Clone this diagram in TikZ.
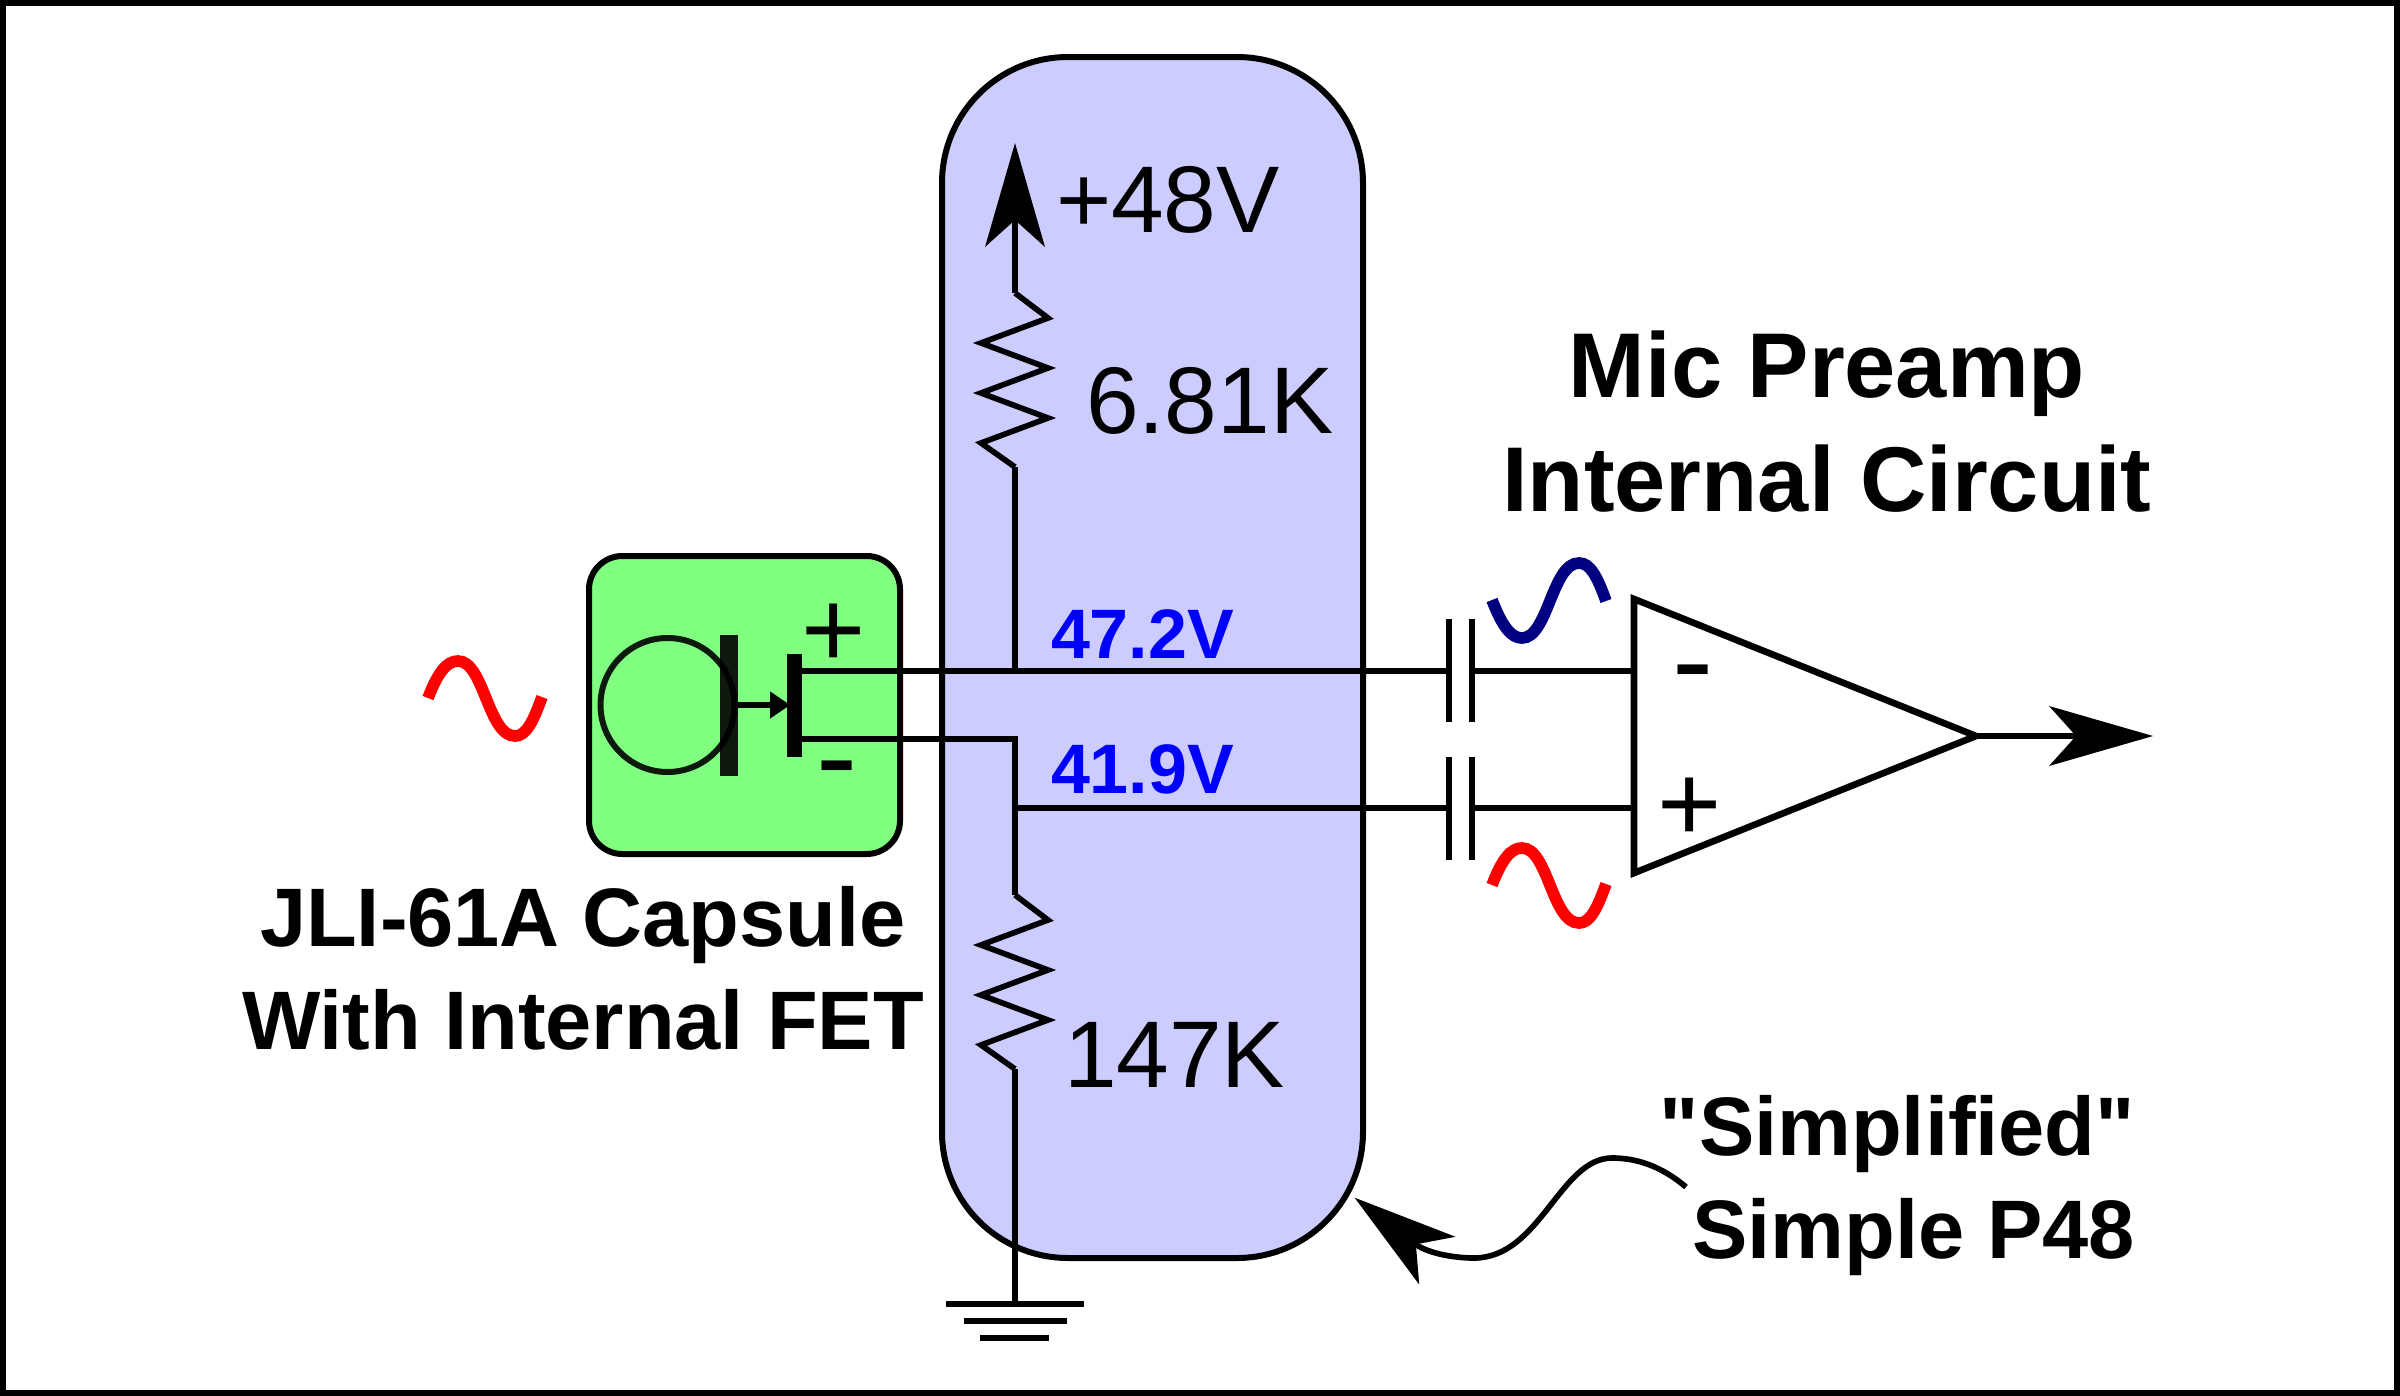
\documentclass[tikz,border=0pt]{standalone}
\usepackage{fontspec}
\setmainfont[Ligatures=TeXOff]{Liberation Sans}
\usetikzlibrary{arrows.meta}
\definecolor{pblue}{HTML}{CCCCFF}
\definecolor{cgreen}{HTML}{80FF80}
\definecolor{sigred}{HTML}{FF0000}
\definecolor{signavy}{HTML}{000080}
\definecolor{vblue}{HTML}{0000FF}
\tikzset{
  wire/.style={line width=1.7pt,line join=miter},
  bigtip/.style={-{Stealth[length=31.2pt,width=18pt,inset=8.1pt,line width=0pt]}},
  plate/.style={line width=1.7pt},
  gndbar/.style={line width=1.8pt},
  lab/.style={inner sep=0pt,outer sep=0pt,anchor=base},
  titlelg/.style={lab,font=\bfseries\fontsize{27.6pt}{30pt}\selectfont},
  titlesm/.style={lab,font=\bfseries\fontsize{24.9pt}{28pt}\selectfont},
  valtxt/.style={lab,font=\fontsize{28.4pt}{32pt}\selectfont},
  volttxt/.style={lab,text=vblue,font=\bfseries\fontsize{21pt}{24pt}\selectfont},
  plustxt/.style={lab,font=\fontsize{33pt}{36pt}\selectfont},
  minustxt/.style={lab,font=\fontsize{37pt}{40pt}\selectfont},
  bigbox/.style={draw=black,line width=1.8pt,inner sep=0pt,rounded corners=37.8pt},
  capbox/.style={draw=black,line width=1.8pt,fill=cgreen,inner sep=0pt,rounded corners=10pt},
  sinewave/.pic={\draw[line width=3.5pt,pic actions]
     (0,0) .. controls (10,-26) and (19,-37) .. (30,-37)
           .. controls (56,-37) and (60,38) .. (87,38)
           .. controls (98,38) and (105,24) .. (114,-1);},
  sinewaveinv/.pic={\draw[line width=3.5pt,pic actions]
     (0,0) .. controls (10,26) and (19,38) .. (30,38)
           .. controls (56,38) and (60,-37) .. (87,-37)
           .. controls (98,-37) and (105,-24) .. (114,1);},
  zigzag/.pic={\draw[wire] (0,0) -- (33,25) -- (-34,50) -- (33,75) -- (-34,100) -- (33,125) -- (-34,150) -- (0,174);}
}
\begin{document}
\begin{tikzpicture}[x=0.3pt,y=-0.3pt]
\useasboundingbox (0,0) rectangle (2400,1396);
\fill[white] (0,0) rectangle (2400,1396);
\draw[line width=1.8pt] (3,3) rectangle (2397,1393);

% boxes
\node[bigbox,fill=pblue,minimum width=126.3pt,minimum height=360.3pt] (p48) at (1152.5,657.5) {};
\node[capbox,minimum width=93.3pt,minimum height=89.4pt] (capsule) at (744.5,705) {};

% coordinates
\coordinate (fetD) at (802,671);
\coordinate (fetS) at (802,739);
\coordinate (jtop) at (1015,671);
\coordinate (jbot) at (1015,739);
\coordinate (jmid) at (1015,808);
\coordinate (vcc) at (1015,143);
\coordinate (r1a) at (1015,293);
\coordinate (r1b) at (1015,467);
\coordinate (r2a) at (1015,895);
\coordinate (r2b) at (1015,1069);
\coordinate (gnd) at (1015,1304);
\coordinate (c1l) at (1449,671);
\coordinate (c1r) at (1472,671);
\coordinate (c2l) at (1449,808);
\coordinate (c2r) at (1472,808);
\coordinate (ampTL) at (1634,599);
\coordinate (ampBL) at (1634,873);
\coordinate (ampT) at (1976,736);
\coordinate (ampIn) at (1634,671);
\coordinate (ampIp) at (1634,808);
\coordinate (out) at (2153,736);

% microphone
\fill[black,opacity=.9] (720,635) rectangle (738,776);
\draw[line width=1.8pt,black,opacity=.9] (667.5,705) circle[radius=67];
\coordinate (gateL) at (738,705);
\coordinate (gateR) at (790,705);
\draw[wire,-{Triangle[length=6pt,width=8.2pt,line width=0pt]}] (gateL) -- (gateR);
\fill (787,654) rectangle (802,757);

% wires
\draw[wire] (fetD) -- (c1l);
\draw[wire] (c1r) -- (ampIn);
\draw[wire] (fetS) -- (jbot) -- (r2a);
\draw[wire] (jmid) -- (c2l);
\draw[wire] (c2r) -- (ampIp);
\draw[wire] (jtop) -- (r1b);
\draw[wire,bigtip] (r1a) -- (vcc);
\draw[wire] (r2b) -- (gnd);
\pic at (r1a) {zigzag};
\pic at (r2a) {zigzag};

% capacitors
\draw[plate] (1449,619) -- (1449,722);
\draw[plate] (1472,619) -- (1472,722);
\draw[plate] (1449,757) -- (1449,860);
\draw[plate] (1472,757) -- (1472,860);

% ground
\draw[gndbar] (946,1304) -- (1084,1304);
\draw[gndbar] (963.5,1321) -- (1066.5,1321);
\draw[gndbar] (980,1338) -- (1049,1338);

% op amp
\draw[line width=2pt,line join=miter] (ampTL) -- (ampT) -- (ampBL) -- cycle;
\draw[wire,bigtip] (ampT) -- (out);

% signals
\pic[draw=sigred] at (428,698) {sinewave};
\pic[draw=sigred] at (1492,885) {sinewave};
\pic[draw=signavy] at (1492,600) {sinewaveinv};

% callout
\coordinate (calloutStart) at (1686,1187);
\coordinate (calloutTip) at (1354.6,1197.7);
\draw[wire,bigtip] (calloutStart) .. controls (1660,1165) and (1635,1158) .. (1612,1158)
  .. controls (1560,1158) and (1540,1258) .. (1474,1258)
  .. controls (1450,1258) and (1426,1252) .. (calloutTip);

% text
\node[plustxt] (capP) at (834,667) {+};
\node[minustxt] (capM) at (837,798) {-};
\node[minustxt] (ampM) at (1693.5,702.5) {-};
\node[plustxt] (ampP) at (1690,841) {+};
\node[valtxt,anchor=base west] (v48) at (1056,232) {+48V};
\node[valtxt,anchor=base west] (r1) at (1086,433) {6.81K};
\node[valtxt,anchor=base west] (r2) at (1064,1087) {147K};
\node[volttxt,anchor=base west] (v1) at (1051,658) {47.2V};
\node[volttxt,anchor=base west] (v2) at (1051,793) {41.9V};
\node[titlelg] (t1) at (1827,397.5) {Mic Preamp};
\node[titlelg] (t2) at (1827,511.7) {Internal Circuit};
\node[titlesm] (t3) at (583,946) {JLI-61A Capsule};
\node[titlesm] (t4) at (583,1049) {With Internal FET};
\node[titlesm,anchor=base east] (t5) at (2135,1155) {"Simplified"};
\node[titlesm,anchor=base east] (t6) at (2135,1258) {Simple P48};
\end{tikzpicture}
\end{document}
